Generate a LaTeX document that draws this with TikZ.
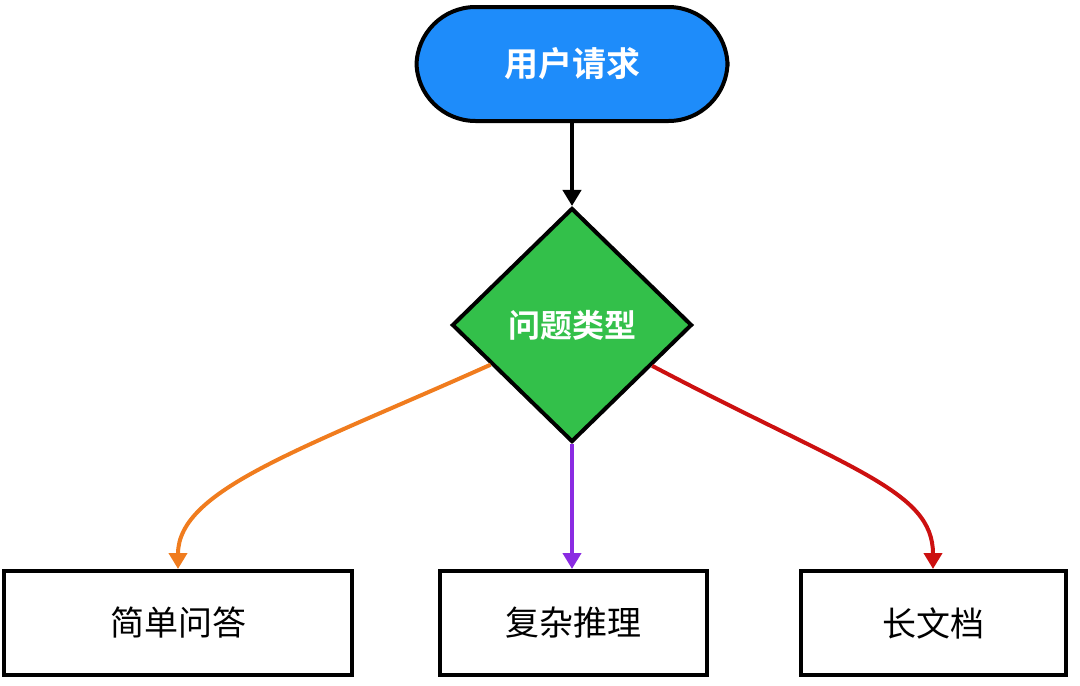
\documentclass[tikz,border=0pt]{standalone}
\usepackage{fontspec}
\setmainfont{Noto Sans CJK SC}[BoldFont={Noto Sans CJK SC Bold}]
\usetikzlibrary{shapes.geometric,arrows.meta}
\definecolor{tblue}{HTML}{1E8CFA}
\definecolor{tgreen}{HTML}{33C04A}
\definecolor{torange}{HTML}{F07C1E}
\definecolor{tpurple}{HTML}{8A2BE2}
\definecolor{tred}{HTML}{CC1010}
\tikzset{
  startbox/.style={draw=black,line width=4pt,fill=tblue,rounded corners=59pt,minimum width=311pt,minimum height=114pt,text=white,font=\fontsize{34}{40}\selectfont\bfseries},
  decbox/.style={diamond,draw=black,line width=4pt,fill=tgreen,minimum width=240pt,minimum height=234pt,inner sep=0pt,text=white,font=\fontsize{32}{38}\selectfont\bfseries},
  outbox/.style={draw=black,line width=4pt,fill=white,minimum height=104pt,font=\fontsize{34}{40}\selectfont},
  conn/.style={line width=4pt,-{Triangle[length=16pt,width=18pt]}}
}
\begin{document}
\begin{tikzpicture}[x=1pt,y=-1pt]
\useasboundingbox (0,0) rectangle (1080,686);
\node[startbox] (req) at (572,64) {用户请求};
\node[decbox] (dec) at (572,325) {问题类型};
\node[outbox,minimum width=348pt] (a) at (178,623) {简单问答};
\node[outbox,minimum width=267pt] (b) at (573,623) {复杂推理};
\node[outbox,minimum width=265pt] (c) at (933,623) {长文档};
\draw[conn,black] (req) -- (dec);
\draw[conn,torange] (dec.206) .. controls (300,450) and (178,490) .. (a.north);
\draw[conn,tpurple] (dec.south) -- (b.north -| dec.south);
\draw[conn,tred] (dec.333) .. controls (850,470) and (933,490) .. (c.north);
\end{tikzpicture}
\end{document}
